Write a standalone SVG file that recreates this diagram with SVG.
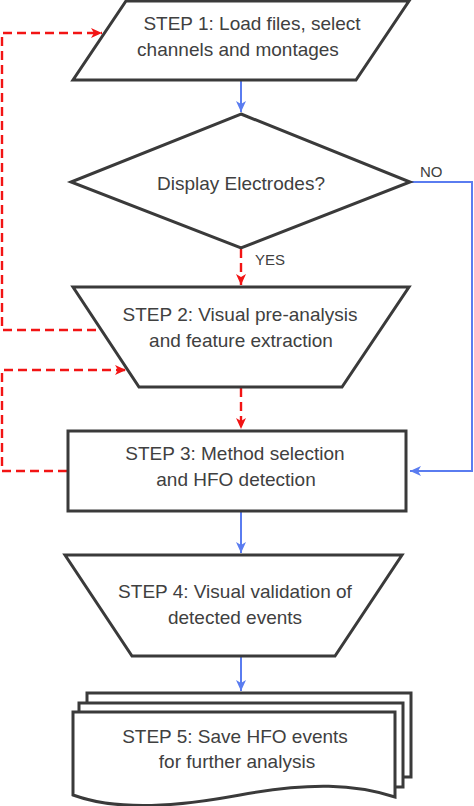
<svg xmlns="http://www.w3.org/2000/svg" width="474" height="806" viewBox="0 0 474 806">
<style>
.shape{fill:#fff;stroke:#3a3a3a;stroke-width:3;stroke-linejoin:miter}
.t{font-family:"Liberation Sans",Arial,sans-serif;font-size:19px;fill:#404040;text-anchor:middle}
.lbl{font-family:"Liberation Sans",Arial,sans-serif;font-size:15px;fill:#404040}
.blue{fill:none;stroke:#5a7cf0;stroke-width:2}
.red{fill:none;stroke:#f21414;stroke-width:2.4;stroke-dasharray:9,5}
</style>
<defs>
<marker id="ab" markerUnits="userSpaceOnUse" markerWidth="12" markerHeight="10" refX="11" refY="5" orient="auto">
<path d="M0,0 L11,5 L0,10 L3,5 z" fill="#5a7cf0"/>
</marker>
<marker id="ar" markerUnits="userSpaceOnUse" markerWidth="12" markerHeight="10" refX="11" refY="5" orient="auto">
<path d="M0,0 L11,5 L0,10 L3,5 z" fill="#f21414"/>
</marker>
</defs>
<rect width="474" height="806" fill="#fff"/>
<g id="connectors">
<path class="blue" d="M241,81 V112" marker-end="url(#ab)"/>
<path class="blue" d="M411,182 H472 V471 H410" marker-end="url(#ab)"/>
<path class="red" d="M241,249 V285" marker-end="url(#ar)"/>
<path class="red" d="M96,330 H2 V33 H102" marker-end="url(#ar)"/>
<path class="red" d="M241,388 V429" marker-end="url(#ar)"/>
<path class="red" d="M67,471 H2 V370 H126" marker-end="url(#ar)"/>
<path class="blue" d="M241,512 V553" marker-end="url(#ab)"/>
<path class="blue" d="M241,657 V691" marker-end="url(#ab)"/>
</g>
<g id="step1">
<polygon class="shape" points="126,1 409,1 356,80 73,80"/>
<text class="t" x="252" y="30">STEP 1: Load files, select</text>
<text class="t" x="238" y="56">channels and montages</text>
</g>
<g id="decision">
<polygon class="shape" points="241,114 410,182 241,248 71,182"/>
<text class="t" x="241" y="190">Display Electrodes?</text>
</g>
<g id="label-no"><text class="lbl" x="420" y="177">NO</text></g>
<g id="label-yes"><text class="lbl" x="255" y="265">YES</text></g>
<g id="step2">
<polygon class="shape" points="73,287 409,287 342,387 139,387"/>
<text class="t" x="240" y="321">STEP 2: Visual pre-analysis</text>
<text class="t" x="241" y="347">and feature extraction</text>
</g>
<g id="step3">
<rect class="shape" x="68" y="431" width="338" height="80"/>
<text class="t" x="235" y="460">STEP 3: Method selection</text>
<text class="t" x="236" y="486">and HFO detection</text>
</g>
<g id="step4">
<polygon class="shape" points="65,555 402,555 335,656 132,656"/>
<text class="t" x="235" y="598">STEP 4: Visual validation of</text>
<text class="t" x="235" y="624">detected events</text>
</g>
<g id="step5">
<path class="shape" d="M87,703 V693 H411 V777 H403"/>
<path class="shape" d="M79,712 V703 H403 V787 H395"/>
<path class="shape" d="M73,712 H395 V797 C355,784 310,782 240,795 C180,806 120,812 73,795 Z"/>
<text class="t" x="235" y="743">STEP 5: Save HFO events</text>
<text class="t" x="237" y="768">for further analysis</text>
</g>
</svg>
